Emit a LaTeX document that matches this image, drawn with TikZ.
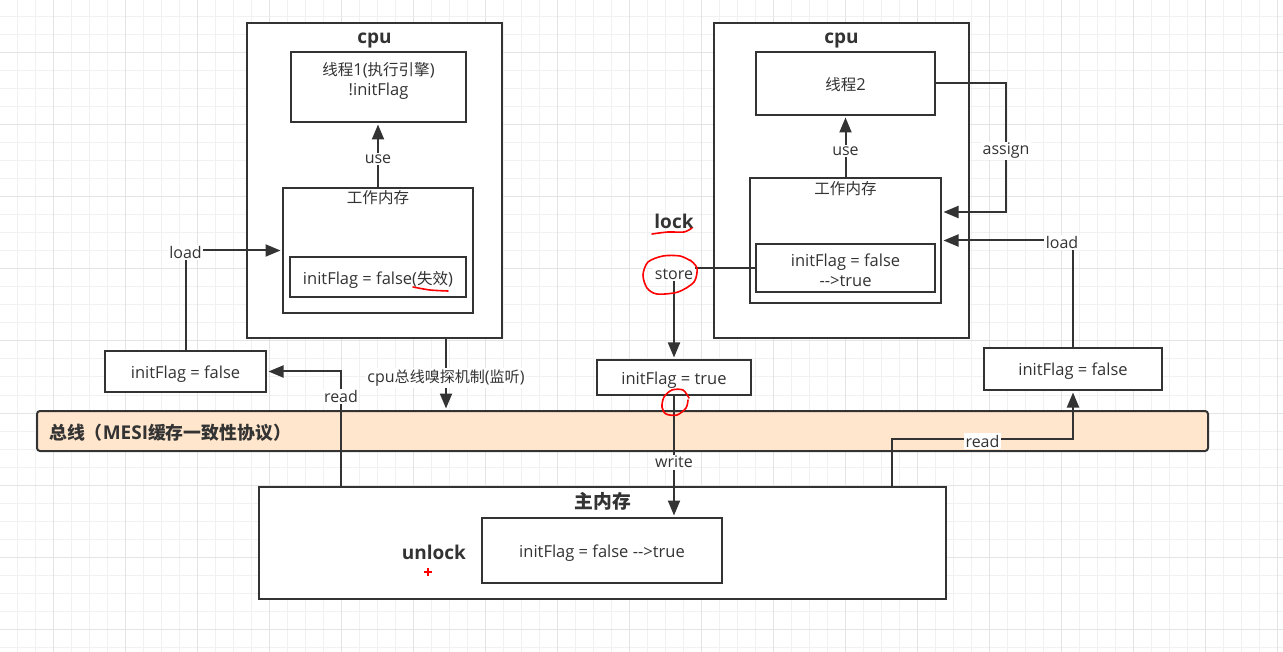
\documentclass[tikz,border=0pt]{standalone}
\usepackage{fontspec}
\setmainfont{Open Sans}
\newfontfamily\cjk{Noto Sans CJK SC}[Scale=0.94]
\usetikzlibrary{arrows.meta,calc}
\definecolor{ln}{HTML}{333333}
\definecolor{busfill}{HTML}{FFE6CC}
\definecolor{gmin}{HTML}{F1F1F1}
\definecolor{gmaj}{HTML}{E4E4E4}
\newcommand{\zh}[1]{{\cjk #1}}
\begin{document}
\begin{tikzpicture}[x=1pt,y=-1pt,
  box/.style={draw=ln,line width=2pt,fill=white,inner sep=0pt},
  txt/.style={text=ln,font=\fontsize{16.5}{20}\selectfont,inner sep=0pt,align=center,yshift=-2.5pt},
  ztxt/.style={text=ln,font=\fontsize{16.5}{20}\selectfont,inner sep=0pt,align=center},
  btxt/.style={text=ln,font=\fontsize{19}{22}\selectfont\bfseries,inner sep=0pt},
  conn/.style={draw=ln,line width=2pt},
  arr/.style={conn,-{Triangle[length=15pt,width=12pt]},shorten >=1.5pt},
  lbl/.style={fill=white,text=ln,font=\fontsize{16}{19}\selectfont,inner sep=1.5pt,yshift=-2pt},
  gridminor/.style={draw=gmin,line width=1pt},
  gridmajor/.style={draw=gmaj,line width=1pt},
  redmark/.style={draw=red,line width=1.6pt,line cap=round,line join=round}]
\useasboundingbox (0,0) rectangle (1283,652);
\fill[white] (0,0) rectangle (1283,652);
% grid
\foreach \xx in {17,35,...,1283} {\draw[gridminor] (\xx,0) -- (\xx,652);}
\foreach \yy in {17,35,...,652} {\draw[gridminor] (0,\yy) -- (1283,\yy);}
\foreach \xx in {53,125,...,1283} {\draw[gridmajor] (\xx,0) -- (\xx,652);}
\foreach \yy in {53,125,...,652} {\draw[gridmajor] (0,\yy) -- (1283,\yy);}
% coordinates
\coordinate (r1x) at (341,0);
\coordinate (snx) at (446,0);
\coordinate (asg) at (1006,212);
\coordinate (r2) at (892,439);
% big boxes
\node[box,rounded corners=3pt,fill=busfill,minimum width=1171pt,minimum height=40pt] (bus) at (622.5,431) {};
\node[box,minimum width=255pt,minimum height=315pt] (cpu1) at (374.5,180.5) {};
\node[box,minimum width=255pt,minimum height=315pt] (cpu2) at (841.5,180.5) {};
\node[box,minimum width=687pt,minimum height=112pt] (mm) at (602.5,543) {};
% inner boxes
\node[box,minimum width=175pt,minimum height=70pt] (t1) at (378.5,87) {};
\node[box,minimum width=190pt,minimum height=125pt] (wm1) at (378,250.5) {};
\node[box,minimum width=176pt,minimum height=40pt] (f1) at (378,277) {};
\node[box,minimum width=179pt,minimum height=63pt] (t2) at (845.5,83.5) {};
\node[box,minimum width=191pt,minimum height=125pt] (wm2) at (845.5,240.5) {};
\node[box,minimum width=179pt,minimum height=48pt] (f2) at (845.5,268) {};
\node[box,minimum width=161pt,minimum height=41pt] (lb) at (185.5,371.5) {};
\node[box,minimum width=178pt,minimum height=42pt] (rb) at (1073,369) {};
\node[box,minimum width=154pt,minimum height=35pt] (mb) at (674,377.5) {};
\node[box,minimum width=240pt,minimum height=65pt] (mmi) at (602,550.5) {};
% texts
\node[btxt,yshift=-3pt] (cpu1t) at (374.5,38) {cpu};
\node[btxt,yshift=-3pt] (cpu2t) at (841.5,38) {cpu};
\node[txt] (t1t) at (378.5,78) {\zh{线程}1(\zh{执行引擎})\\!initFlag};
\node[ztxt] (wm1t) at (378,198) {\zh{工作内存}};
\node[txt] (f1t) at (f1) {initFlag = false(\zh{失效})};
\node[ztxt,yshift=-1pt] (t2t) at (t2) {\zh{线程}2};
\node[ztxt] (wm2t) at (845.5,189) {\zh{工作内存}};
\node[txt] (f2t) at (f2) {initFlag = false\\-{}-{}>true};
\node[txt] (lbt) at (lb) {initFlag = false};
\node[txt] (rbt) at (rb) {initFlag = false};
\node[txt] (mbt) at (mb) {initFlag = true};
\node[txt] (mmit) at (mmi) {initFlag = false -{}-{}>true};
\node[btxt,anchor=west] (bust) at (49,433) {\zh{总线（}MESI\zh{缓存一致性协议）}};
\node[btxt,font=\fontsize{20}{22}\selectfont\bfseries] (mmt) at (603,501) {\zh{主内存}};
\node[btxt] (unlock) at (434,552) {unlock};
\node[btxt] (lock) at (674,221) {lock};
% connectors
\draw[arr] (wm1.north) -- node[lbl,pos=0.47] (use1) {use} (wm1.north |- t1.south);
\draw[arr] (lb.north) |- node[lbl,pos=0.5] (load1) {load} (wm1.west);
\draw[arr] (mm.north -| r1x) |- node[lbl,pos=0.4] (read1) {read} (lb.east);
\draw[arr] (cpu1.south -| snx) -- node[lbl,pos=0.52] (snoop) {cpu\zh{总线嗅探机制}(\zh{监听})} (bus.north -| snx);
\draw[arr] (wm2.north) -- node[lbl,pos=0.46] (use2) {use} (wm2.north |- t2.south);
\draw[arr] (t2.east) -| node[lbl,pos=0.755] (assign) {assign} (asg) -- (wm2.east |- asg);
\draw[arr] (rb.north) |- node[lbl,pos=0.5,xshift=-11pt] (load2) {load} (wm2.east);
\draw[arr] (mm.north -| r2) -- (r2) -| node[lbl,pos=0.25] (read2) {read} (rb.south);
\draw[arr] (f2.west) -| node[lbl,pos=0.5,yshift=-4pt] (store) {store} (mb.north);
\draw[arr] (mb.south) -- node[lbl,pos=0.53] (write) {write} (mb.south |- mmi.north);
% red annotations
\draw[redmark] plot[smooth] coordinates {(652,234) (668,232) (684,232) (692,228)};
\draw[redmark] plot[smooth] coordinates {(413,287) (430,290) (448,291)};
\draw[redmark] plot[smooth] coordinates {(691,261) (680,256) (663,256) (648,262) (643,275) (647,288) (657,294) (678,292) (694,282) (697,268) (690,260)};
\draw[redmark] plot[smooth] coordinates {(689,398) (683,390) (672,390) (664,397) (662,407) (666,414) (677,415) (686,408) (688,400)};
\draw[red,line width=1.2pt] (424,572) -- (432,572) (428,568) -- (428,576);
\end{tikzpicture}
\end{document}
